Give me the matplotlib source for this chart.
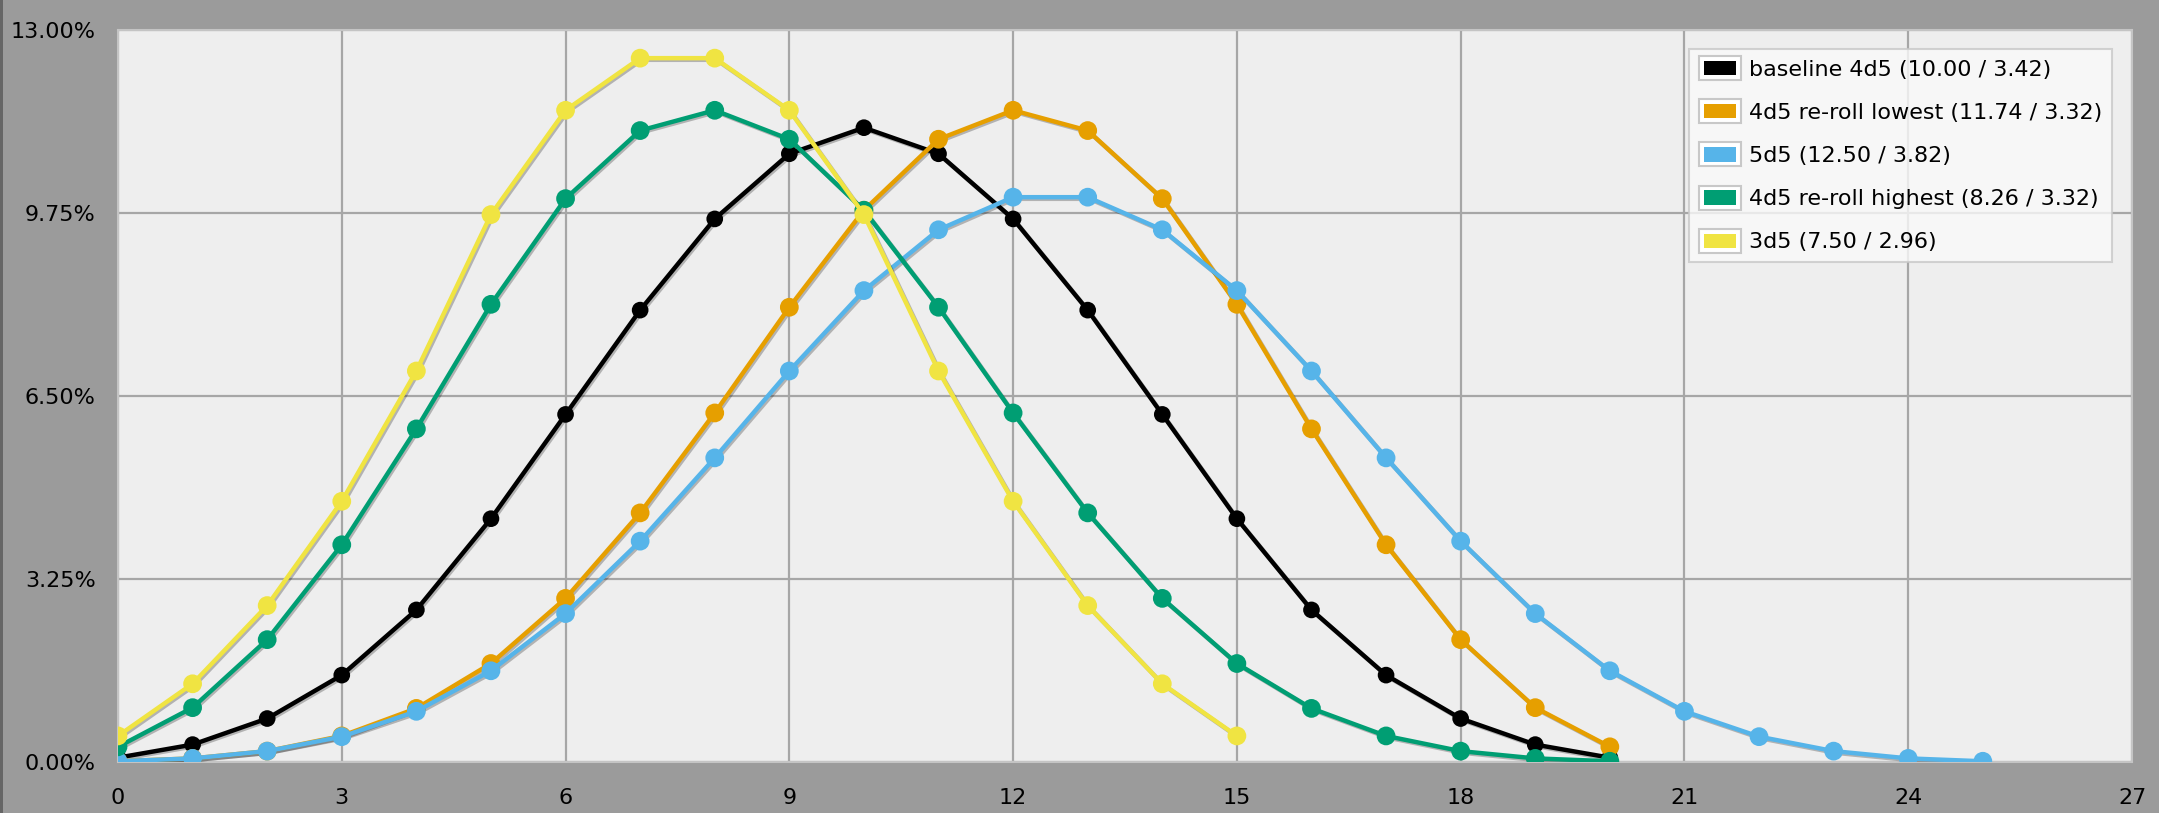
import matplotlib
matplotlib.use("Agg")
import matplotlib.pyplot as plt
import matplotlib.patheffects as pe
from matplotlib.patches import Rectangle
from matplotlib.legend_handler import HandlerBase

# ---- data (percent) ----
labels = ["baseline 4d5 (10.00 / 3.42)",
          "4d5 re-roll lowest (11.74 / 3.32)",
          "5d5 (12.50 / 3.82)",
          "4d5 re-roll highest (8.26 / 3.32)",
          "3d5 (7.50 / 2.96)"]
colors = ["#000000", "#E69F00", "#56B4E9", "#009E73", "#F0E442"]

baseline = [0.077, 0.309, 0.772, 1.543, 2.701, 4.321, 6.173, 8.025, 9.645, 10.802, 11.265,
            10.802, 9.645, 8.025, 6.173, 4.321, 2.701, 1.543, 0.772, 0.309, 0.077]
reroll_low = [0.013, 0.064, 0.193, 0.463, 0.952, 1.749, 2.906, 4.424, 6.199, 8.076, 9.799,
              11.060, 11.574, 11.214, 10.005, 8.128, 5.916, 3.858, 2.173, 0.965, 0.270]
five_d5 = [0.013, 0.064, 0.193, 0.450, 0.900, 1.620, 2.636, 3.922, 5.401, 6.944, 8.372, 9.452,
           10.031, 10.031, 9.452, 8.372, 6.944, 5.401, 3.922, 2.636, 1.620, 0.900, 0.450,
           0.193, 0.064, 0.013]
reroll_high = [0.270, 0.965, 2.173, 3.858, 5.916, 8.128, 10.005, 11.214, 11.574, 11.060, 9.799,
               8.076, 6.199, 4.424, 2.906, 1.749, 0.952, 0.463, 0.193, 0.064, 0.013]
three_d5 = [0.463, 1.389, 2.778, 4.630, 6.944, 9.722, 11.574, 12.5, 12.5, 11.574, 9.722,
            6.944, 4.630, 2.778, 1.389, 0.463]
series = [baseline, reroll_low, five_d5, reroll_high, three_d5]

x_ticks = [0, 3, 6, 9, 12, 15, 18, 21, 24, 27]
y_ticks = [0.0, 3.25, 6.5, 9.75, 13.0]

W, H, DPI = 2159, 813, 100
fig = plt.figure(figsize=(W / DPI, H / DPI), dpi=DPI, facecolor="#9b9b9b")
fig.patches.append(Rectangle((0, 0), 3 / W, 1, transform=fig.transFigure,
                             facecolor="#666666", edgecolor="none", zorder=-1))

left, right, top, bottom = 118, 2132, 30, 762
ax = fig.add_axes([left / W, 1 - bottom / H, (right - left) / W, (bottom - top) / H])
ax.set_facecolor("#eeeeee")
ax.set_xlim(0, 27)
ax.set_ylim(0, 13)
ax.set_xticks(x_ticks)
ax.set_yticks(y_ticks)
ax.set_xticklabels([str(v) for v in x_ticks])
ax.set_yticklabels(["%.2f%%" % v for v in y_ticks])
ax.tick_params(axis="both", length=0, labelsize=16, colors="#000000")
ax.tick_params(axis="x", pad=19)
ax.tick_params(axis="y", pad=16)
ax.grid(True, color="#a6a6a6", linewidth=1.6)
ax.set_axisbelow(True)
for s in ax.spines.values():
    s.set_color("#c4c4c4")
    s.set_linewidth(1.5)

shadow = [pe.SimpleLineShadow(offset=(1.2, -1.2), shadow_color="k", alpha=0.25), pe.Normal()]
msizes = [12, 13.5, 13.5, 13.5, 13.5]
for i, (vals, c, lab) in enumerate(zip(series, colors, labels)):
    xs = list(range(len(vals)))
    ax.plot(xs, vals, color=c, linewidth=3.2, marker="o", markersize=msizes[i],
            markeredgewidth=0, label=lab, zorder=3 + i, path_effects=shadow)


class SwatchHandler(HandlerBase):
    def create_artists(self, legend, orig_handle, xdescent, ydescent, width, height,
                       fontsize, trans):
        c = orig_handle.get_color()
        outer = Rectangle((-xdescent, -ydescent - 2), width, height + 4, facecolor="white",
                          edgecolor="#c8c8c8", linewidth=1.5, transform=trans)
        inner = Rectangle((-xdescent + 3.5, -ydescent + 1.5), width - 7, height - 3,
                          facecolor=c, edgecolor="none", transform=trans)
        return [outer, inner]


handles = ax.get_lines()
leg = ax.legend(handles=handles, labels=labels, loc="upper right",
                bbox_to_anchor=(1 - 20 / (right - left), 1 - 19 / (bottom - top)),
                borderaxespad=0, fontsize=16, frameon=True, fancybox=False,
                framealpha=0.8, facecolor="#fafafa", edgecolor="#c8c8c8",
                handler_map={type(handles[0]): SwatchHandler()},
                handlelength=1.9, handleheight=0.9, handletextpad=0.35,
                labelspacing=1.0, borderpad=0.45)
leg.get_frame().set_linewidth(1.5)
leg.set_zorder(20)

fig.savefig("out.png", dpi=DPI, facecolor=fig.get_facecolor())
